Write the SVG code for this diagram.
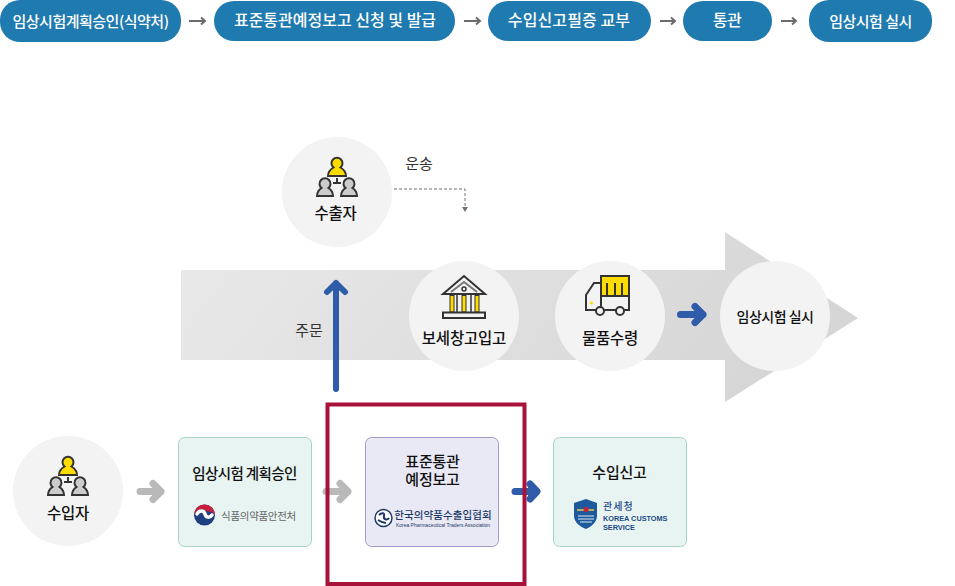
<svg xmlns="http://www.w3.org/2000/svg" xmlns:xlink="http://www.w3.org/1999/xlink" width="955" height="586" viewBox="0 0 955 586">
<style>
text{font-family:"Noto Sans CJK KR","Liberation Sans",sans-serif;text-anchor:middle}
.pill{fill:#1f7ab0}
.pt{fill:#fff;font-size:15px;letter-spacing:-.5px;font-weight:500}
.circ{fill:#f3f3f3}
.cl{fill:#111;font-size:15.500px;font-weight:500;letter-spacing:-.2px}
.lbl{fill:#333;font-size:15px}
.box1{fill:#e8f4f2;stroke:#a5d3c8}
.box2{fill:#e9e8f5;stroke:#a09bca}
.small{stroke:#6b6b6b;stroke-width:2;fill:none}
.gr{stroke:#b9b9b9;stroke-width:7;stroke-linecap:round;stroke-linejoin:round;fill:none}
.bl{stroke:#2f5ca8;stroke-width:6;stroke-linecap:round;stroke-linejoin:round;fill:none}
.ic{stroke:#333;stroke-width:2}
</style>
<defs>
<linearGradient id="g" x1="0" x2="1" y1="0" y2="0.2"><stop offset="0" stop-color="#e9e9e9"/><stop offset="1" stop-color="#d6d6d6"/></linearGradient>
<g id="people">
<path class="ic" fill="#ffdc00" d="M-9 -1C-9 -6 -6 -8 -3.500 -9.500A5.500 5.500 0 1 1 3.500 -9.500C6 -8 9 -6 9 -1Z"/>
<path class="ic" fill="#ccc" d="M-20 19C-20 14 -17 12 -15.500 11A5.500 5.500 0 1 1 -8.500 11C-7 12 -4 14 -4 19Z"/>
<path class="ic" fill="#ccc" d="M4 19C4 14 7 12 8.500 11A5.500 5.500 0 1 1 15.500 11C17 12 20 14 20 19Z"/>
<path stroke="#333" stroke-width="2" fill="none" d="M0 1V6M-4 6H4"/>
</g>
</defs>
<g id="banner"><path fill="url(#g)" d="M181 270H725V232L858 318L725 402V360H181Z"/></g>
<g id="step1"><rect class="pill" x="0" y="0" width="181" height="42" rx="20"/><text class="pt" x="90.500" y="26.500">임상시험계획승인(식약처)</text></g>
<g id="step2"><rect class="pill" x="214" y="1" width="241" height="40" rx="20"/><text class="pt" x="335" y="26" style="font-size:16px;letter-spacing:0">표준통관예정보고 신청 및 발급</text></g>
<g id="step3"><rect class="pill" x="488" y="1" width="163" height="40" rx="20"/><text class="pt" x="569" y="26" style="font-size:16px;letter-spacing:.1px">수입신고필증 교부</text></g>
<g id="step4"><rect class="pill" x="683" y="1" width="89" height="40" rx="20"/><text class="pt" x="727" y="26" style="font-size:16px">통관</text></g>
<g id="step5"><rect class="pill" x="809" y="0" width="123" height="42" rx="20"/><text class="pt" x="870.500" y="27">임상시험 실시</text></g>
<g id="exporter"><circle class="circ" cx="337" cy="192" r="55"/><use xlink:href="#people" href="#people" x="337" y="177"/><text class="cl" x="335.500" y="219">수출자</text></g>
<g id="warehouse"><circle class="circ" cx="464" cy="316" r="55"/>
<path fill="#f3f3f3" stroke="#333" stroke-width="2" d="M443 294L464 276L485 294Z"/>
<path fill="none" stroke="#777" stroke-width="2" d="M451 292L464 282L477 292"/>
<circle cx="464" cy="289" r="2" fill="none" stroke="#333" stroke-width="1.500"/>
<rect x="450" y="295.500" width="4" height="16.500" fill="#ffdc00" stroke="#333"/><rect x="462" y="295.500" width="4" height="16.500" fill="#ffdc00" stroke="#333"/><rect x="475" y="295.500" width="4" height="16.500" fill="#ffdc00" stroke="#333"/>
<path stroke="#333" stroke-width="1.500" fill="none" d="M457 295V312M471 295V312"/>
<rect x="443" y="312.500" width="42" height="5.500" fill="#f3f3f3" stroke="#333" stroke-width="2"/>
<text class="cl" x="464" y="344">보세창고입고</text></g>
<g id="receipt"><circle class="circ" cx="610" cy="316" r="55"/>
<rect x="601" y="276" width="28" height="34" fill="#f3f3f3" stroke="#333" stroke-width="2"/>
<rect x="602" y="277" width="26" height="19" fill="#ffdc00"/>
<path stroke="#333" stroke-width="2" fill="none" d="M607 283V295M615 283V295M622 283V295M601 296H629"/>
<path fill="#f3f3f3" stroke="#333" stroke-width="2" d="M601 283H594L586 295V310H601Z"/>
<circle cx="591.500" cy="303" r="1.500" fill="#ffdc00"/>
<circle cx="600" cy="311" r="4" fill="#f3f3f3" stroke="#333" stroke-width="2"/><circle cx="620" cy="311" r="4" fill="#f3f3f3" stroke="#333" stroke-width="2"/>
<text class="cl" x="610" y="344">물품수령</text></g>
<g id="trial"><circle class="circ" cx="775" cy="316" r="55"/><text class="cl" x="775" y="322" style="font-size:14px;letter-spacing:-.5px">임상시험 실시</text></g>
<g id="importer"><circle class="circ" cx="68" cy="491" r="55"/><use xlink:href="#people" href="#people" x="68" y="476"/><text class="cl" x="68" y="519">수입자</text></g>
<g id="approval"><rect class="box1" x="178.500" y="437.500" width="133" height="109" rx="6"/><text class="cl" x="244.500" y="479" style="font-size:14.500px;letter-spacing:-.6px">임상시험 계획승인</text>
<circle cx="204.500" cy="515" r="10.500" fill="#1e3f80"/>
<path fill="#c8203a" d="M194 515A10.500 10.500 0 0 1 215 515L212 512L206 511C202 507 196 510 194 515Z"/>
<path fill="none" stroke="#fff" stroke-width="3.500" stroke-linecap="round" d="M197 514C199 510 204 510 205 514C206 518 210 518 212 515"/>
<text x="258.500" y="520" style="font-size:10.500px;fill:#666;letter-spacing:-.3px">식품의약품안전처</text></g>
<g id="customs-report"><rect class="box2" x="365.500" y="437.500" width="133" height="109" rx="6"/><text class="cl" style="font-size:15px"><tspan x="432.500" y="467">표준통관</tspan><tspan x="432.500" y="485">예정보고</tspan></text>
<circle cx="383.500" cy="518" r="8.500" fill="#fff" stroke="#1d3a66" stroke-width="1.500"/>
<path fill="none" stroke="#1d3a66" stroke-width="2" d="M379 515C382 512 385 513 384 516C383 519 387 521 389 518M378 520C381 522 383 523 386 523"/>
<text x="443" y="519" style="font-size:10.500px;font-weight:500;fill:#1d3a66;letter-spacing:.1px">한국의약품수출입협회</text>
<text x="443" y="527" style="font-size:5px;fill:#1d3a66;font-family:'Liberation Sans',sans-serif">Korea Pharmaceutical Traders Association</text></g>
<g id="import-report"><rect class="box1" x="553.500" y="437.500" width="133" height="109" rx="6"/><text class="cl" x="619.500" y="478" style="font-size:15px">수입신고</text>
<path fill="#1d5a9c" d="M574 503L586 499L597 503V516C597 522 591 527 586 529C580 527 574 522 574 516Z"/>
<path stroke="#e8c84a" stroke-width="1.500" d="M577 510H594"/><circle cx="586" cy="509.500" r="2.500" fill="#c8203a"/>
<path stroke="#dfe8f2" stroke-width="1" d="M578 516H594M578 519H594M580 522H592"/>
<text x="603" y="510" style="text-anchor:start;font-size:10px;font-weight:500;fill:#1d4a85;letter-spacing:1px">관세청</text>
<text style="text-anchor:start;font-size:7.300px;font-weight:700;fill:#1d4a85;font-family:'Liberation Sans',sans-serif"><tspan x="603" y="520.500">KOREA CUSTOMS</tspan><tspan x="603" y="529.500">SERVICE</tspan></text></g>
<g id="labels"><text class="lbl" x="419" y="169">운송</text><text class="lbl" x="309" y="336">주문</text></g>
<g id="connectors">
<path class="small" d="M189 21H205M201 17.500L205 21L201 24.500"/>
<path class="small" d="M464 21H480M476 17.500L480 21L476 24.500"/>
<path class="small" d="M660 21H675M671 17.500L675 21L671 24.500"/>
<path class="small" d="M781 21H796M792 17.500L796 21L792 24.500"/>
<path d="M394 189H465V208" fill="none" stroke="#7a7069" stroke-width="1" stroke-dasharray="3 2"/><path d="M462 207H468L465 212Z" fill="#7a7069"/>
<path class="bl" d="M336 389V283M327 292L336 283L345 292"/>
<path class="bl" style="stroke-width:7" d="M680.500 314.500H703M695 306.500L703 314.500L695 322.500"/>
<path class="gr" d="M140 491.500H161M153 483.500L161 491.500L153 499.500"/>
<path class="gr" d="M326 491.500H348M340 483.500L348 491.500L340 499.500"/>
<path class="bl" style="stroke-width:7" d="M515 491.500H536M530 484L537 491.500L530 499"/><path fill="#2f5ca8" d="M528 484L537 491.500L528 499Z"/>
</g>
<rect id="highlight" x="327.500" y="404.500" width="197" height="179.500" fill="none" stroke="#a8123a" stroke-width="4"/>
</svg>
